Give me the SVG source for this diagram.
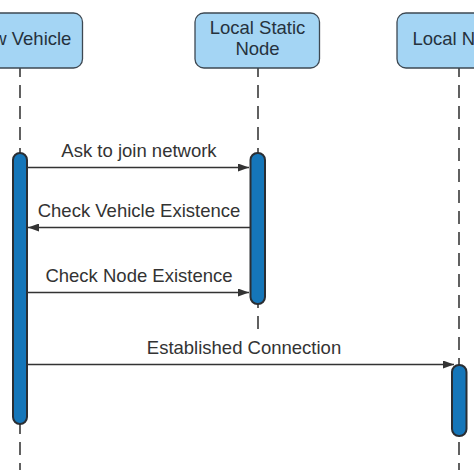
<svg xmlns="http://www.w3.org/2000/svg" width="474" height="474" viewBox="0 0 474 474">
<style>
.head{fill:#a4d5f4;stroke:#3d4852;stroke-width:1.3}
.htxt{font-family:"Liberation Sans",Arial,sans-serif;font-size:18.5px;fill:#26323d;text-anchor:middle}
.life{stroke:#3a3a3a;stroke-width:1.6;stroke-dasharray:13 8;fill:none}
.act{fill:#1576b9;stroke:#2a2e33;stroke-width:2}
.msg{stroke:#333;stroke-width:1.5;fill:none}
.lbl{font-family:"Liberation Sans",Arial,sans-serif;font-size:18.5px;fill:#333;text-anchor:middle}
</style>
<defs>
<marker id="ah" viewBox="0 0 11 8" refX="11" refY="4" markerWidth="11" markerHeight="8" markerUnits="userSpaceOnUse" orient="auto">
<path d="M0,0 L11,4 L0,8 Z" fill="#333"/>
</marker>
</defs>
<rect width="474" height="474" fill="#fff"/>
<g id="lifelines">
<line class="life" x1="20" y1="68" x2="20" y2="470" stroke-dashoffset="4"/>
<line class="life" x1="258" y1="68" x2="258" y2="334" stroke-dashoffset="4"/>
<line class="life" x1="459" y1="68" x2="459" y2="470" stroke-dashoffset="4"/>
</g>
<g id="new-vehicle">
<rect class="head" x="-42" y="13" width="124.5" height="55" rx="9"/>
<text class="htxt" x="20.5" y="45">New Vehicle</text>
<rect class="act" x="13" y="153" width="14" height="271" rx="7"/>
</g>
<g id="local-static-node">
<rect class="head" x="195" y="13" width="124.5" height="55" rx="9"/>
<text class="htxt" x="257.5" y="33.5">Local Static</text>
<text class="htxt" x="257.5" y="55">Node</text>
<rect class="act" x="250.5" y="153" width="14.5" height="151" rx="7"/>
</g>
<g id="local-node">
<rect class="head" x="397" y="13" width="124.5" height="55" rx="9"/>
<text class="htxt" x="459.3" y="45">Local Node</text>
<rect class="act" x="452" y="365" width="14.5" height="71" rx="7"/>
</g>
<g id="connectors">
<line class="msg" x1="27" y1="167.5" x2="249" y2="167.5" marker-end="url(#ah)"/>
<text class="lbl" x="139" y="157">Ask to join network</text>
<line class="msg" x1="250" y1="227.5" x2="28" y2="227.5" marker-end="url(#ah)"/>
<text class="lbl" x="139" y="217">Check Vehicle Existence</text>
<line class="msg" x1="27" y1="292.5" x2="249" y2="292.5" marker-end="url(#ah)"/>
<text class="lbl" x="139" y="282">Check Node Existence</text>
<line class="msg" x1="27" y1="364.5" x2="454" y2="364.5" marker-end="url(#ah)"/>
<text class="lbl" x="244" y="353.5">Established Connection</text>
</g>
</svg>
